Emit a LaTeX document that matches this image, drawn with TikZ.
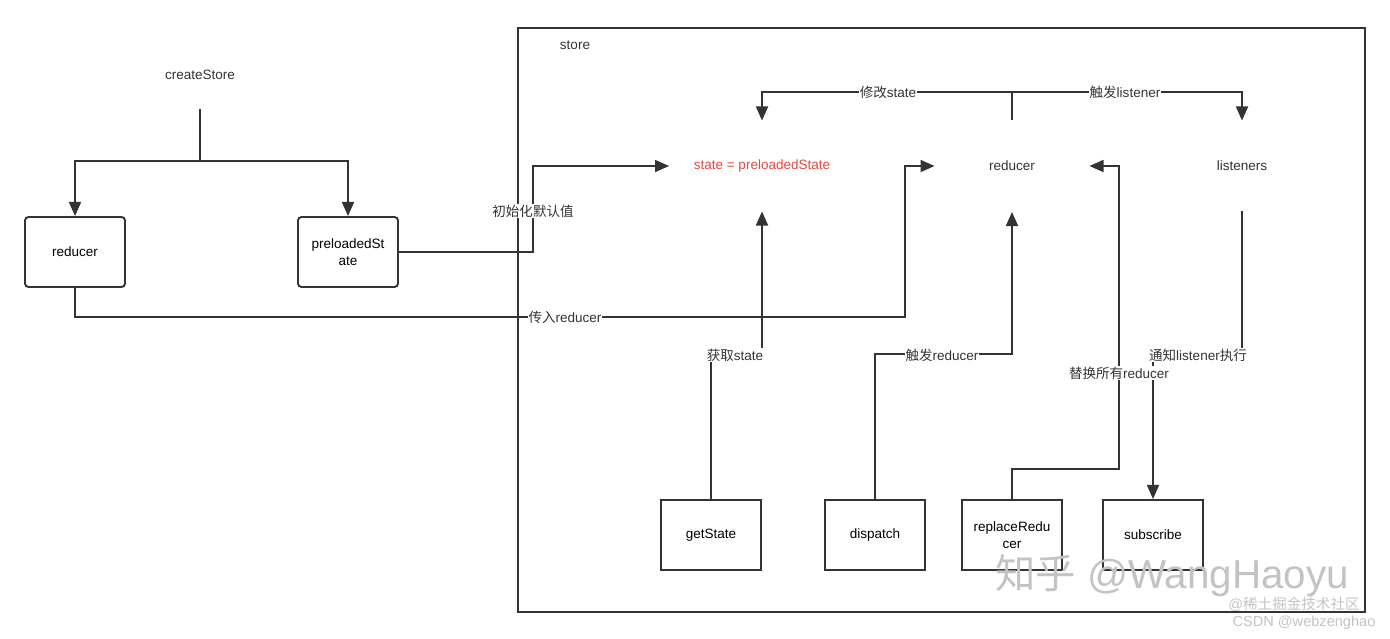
\documentclass[tikz,border=0pt]{standalone}
\usepackage{fontspec}
\setmainfont{Liberation Sans}
\newfontfamily\cjk{Noto Sans CJK SC}
\usetikzlibrary{arrows.meta}
\begin{document}
\begin{tikzpicture}[line width=1.1pt,font=\fontsize{7.7}{10}\selectfont]
\newcommand{\xgrid}{0.02}
\newcommand{\ygrid}{-0.02}
\definecolor{linecolor}{RGB}{51,51,51}
\definecolor{statecolor}{RGB}{229,72,64}
\definecolor{markcolor}{RGB}{195,195,195}
\tikzstyle{box}=[draw=linecolor,minimum width=2cm,minimum height=1.4cm,align=center,inner sep=1pt]
\tikzstyle{roundbox}=[box,rounded corners=2pt]
\tikzstyle{plain}=[inner sep=0pt,text=linecolor]
\tikzstyle{edge}=[draw=linecolor,-{Triangle[length=8pt,width=6.8pt]}]
\tikzstyle{line}=[draw=linecolor]
\tikzstyle{lbl}=[fill=white,inner sep=0.5pt,text=linecolor]
\tikzstyle{watermark}=[text=markcolor,inner sep=0pt]
\useasboundingbox (0,0) rectangle (\xgrid*1390,\ygrid*638);
% store frame
\node[draw=linecolor,minimum width=16.94cm,minimum height=11.68cm] (store) at (\xgrid*941.5,\ygrid*320) {};
\node[plain] (storelbl) at (\xgrid*575,\ygrid*45) {store};
% outside
\node[plain,minimum height=1.32cm] (cs) at (\xgrid*200,\ygrid*75) {createStore};
\node[roundbox] (red) at (\xgrid*75,\ygrid*252) {reducer};
\node[roundbox] (pre) at (\xgrid*348,\ygrid*252) {preloadedSt\\ate};
% inside the store
\node[plain,text=statecolor,minimum width=3.68cm,minimum height=1.78cm] (state) at (\xgrid*762,\ygrid*166) {state = preloadedState};
\node[plain,minimum width=3.06cm,minimum height=1.8cm] (rd) at (\xgrid*1012,\ygrid*166) {reducer};
\node[plain,minimum width=2cm,minimum height=1.78cm] (ls) at (\xgrid*1242,\ygrid*166) {listeners};
\node[box] (get) at (\xgrid*711,\ygrid*535) {getState};
\node[box] (dis) at (\xgrid*875,\ygrid*535) {dispatch};
\node[box] (rep) at (\xgrid*1012,\ygrid*535) {replaceRedu\\cer};
\node[box] (sub) at (\xgrid*1153,\ygrid*535) {subscribe};
% bends
\coordinate (split) at (\xgrid*200,\ygrid*161);
\coordinate (b1) at (\xgrid*533,\ygrid*252);
\coordinate (b2) at (\xgrid*905,\ygrid*317);
\coordinate (top) at (\xgrid*1012,\ygrid*92);
\coordinate (b3) at (\xgrid*762,\ygrid*355);
\coordinate (b4) at (\xgrid*1012,\ygrid*354);
\coordinate (b5) at (\xgrid*1119,\ygrid*469);
\coordinate (b6) at (\xgrid*1153,\ygrid*355);
\draw[line] (cs.south) -- (split);
\draw[edge] (split) -| (red.north);
\draw[edge] (split) -| (pre.north);
\draw[edge] (pre.east) -- (b1) |- (state.west);
\draw[edge] (red.south) |- (b2) |- (rd.west);
\draw[line] (rd.north) -- (top);
\draw[edge] (top) -| (state.north);
\draw[edge] (top) -| (ls.north);
\draw[edge] (get.north) |- (b3) -- (state.south);
\draw[edge] (dis.north) |- (b4) -- (rd.south);
\draw[edge] (rep.north) |- (b5) |- (rd.east);
\draw[edge] (ls.south) |- (b6) -- (sub.north);
% labels
\node[lbl] (initlbl) at (\xgrid*533,\ygrid*211) {{\cjk 初始化默认值}};
\node[lbl] (passlbl) at (\xgrid*565,\ygrid*317) {{\cjk 传入}reducer};
\node[lbl] (modlbl) at (\xgrid*888,\ygrid*92) {{\cjk 修改}state};
\node[lbl] (firelbl) at (\xgrid*1125,\ygrid*92) {{\cjk 触发}listener};
\node[lbl] (getlbl) at (\xgrid*735,\ygrid*355) {{\cjk 获取}state};
\node[lbl] (dislbl) at (\xgrid*942,\ygrid*355) {{\cjk 触发}reducer};
\node[lbl] (notlbl) at (\xgrid*1198,\ygrid*355) {{\cjk 通知}listener{\cjk 执行}};
\node[lbl] (replbl) at (\xgrid*1119,\ygrid*373) {{\cjk 替换所有}reducer};
% watermarks
\node[watermark,font=\fontsize{23}{26}\selectfont] (mark1) at (\xgrid*1172,\ygrid*576) {{\cjk 知乎} @WangHaoyu};
\node[watermark,font=\fontsize{8.3}{9}\selectfont] (mark2) at (\xgrid*1294,\ygrid*604) {@{\cjk 稀土掘金技术社区}};
\node[watermark,font=\fontsize{8.3}{9}\selectfont] (mark3) at (\xgrid*1304,\ygrid*623) {CSDN @webzenghao};
\end{tikzpicture}
\end{document}
